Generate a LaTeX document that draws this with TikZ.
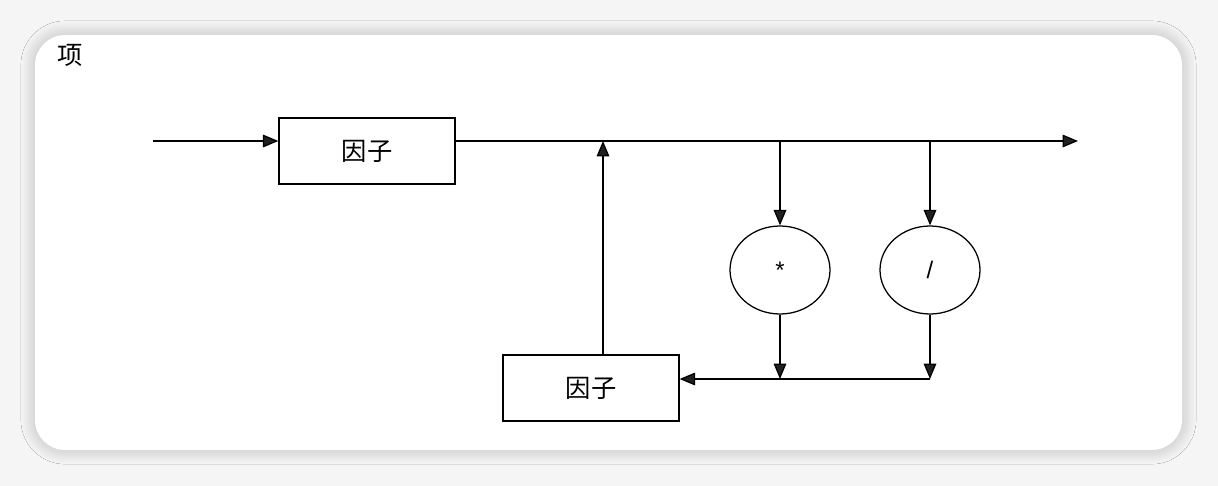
\documentclass[tikz,border=0pt]{standalone}
\usepackage{fontspec}
\setmainfont{Liberation Sans}
\newfontfamily\cjk{Noto Sans CJK SC}
\usetikzlibrary{arrows.meta,shapes.geometric,shadows.blur}
\begin{document}
\begin{tikzpicture}[x=0.025cm,y=-0.025cm,
  box/.style={draw,line width=0.9pt,minimum width=176*0.025cm,minimum height=66*0.025cm,font=\cjk\fontsize{18}{20}\selectfont,inner sep=0},
  op/.style={draw,ellipse,line width=0.9pt,minimum width=100*0.025cm,minimum height=88*0.025cm,font=\fontsize{17}{20}\selectfont,inner sep=0},
  ln/.style={line width=0.9pt},
  ar/.style={ln,-{Triangle[length=11pt,width=9pt]}}]
\useasboundingbox (0,0) rectangle (1218,486);
\fill[gray!8] (0,0) rectangle (1218,486);
\fill[white,rounded corners=30*0.025cm,blur shadow={shadow blur steps=10,shadow xshift=0pt,shadow yshift=0pt,shadow blur radius=10pt,shadow opacity=25}] (35,35) rectangle (1182,450);
\node[font=\cjk\fontsize{18}{20}\selectfont] (t) at (70,55) {项};
\node[box] (f1) at (367,151) {因子};
\node[box] (f2) at (591,388) {因子};
\node[op] (m) at (780,270) {*};
\node[op] (d) at (930,270) {/};
\coordinate (in) at (153,141);
\coordinate (out) at (1078,141);
\coordinate (j1) at (603,141);
\coordinate (b1) at (780,141);
\coordinate (b2) at (930,141);
\coordinate (c1) at (780,379);
\coordinate (c2) at (930,379);
\draw[ar] (in) -- (in -| f1.west);
\draw[ar] (f1.east |- out) -- (out);
\draw[ar] (b1) -- (m.north);
\draw[ar] (b2) -- (d.north);
\draw[ar] (m.south) -- (c1);
\draw[ar] (d.south) -- (c2);
\draw[ar] (c2) -- (c2 -| f2.east);
\draw[ar] (f2.north -| j1) -- (j1);
\end{tikzpicture}
\end{document}
